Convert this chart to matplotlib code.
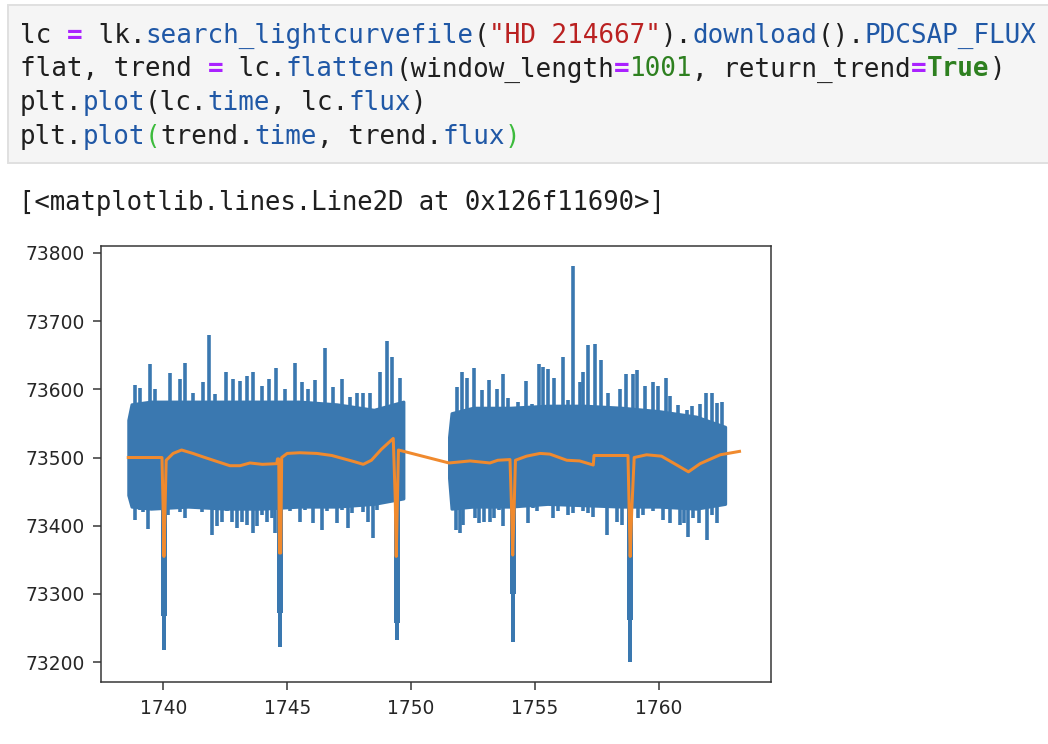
import numpy as np
import matplotlib
matplotlib.use("Agg")
import matplotlib.pyplot as plt
from matplotlib.patches import Rectangle

W, H = 1048, 744
DPI = 100

# ---------------- data ----------------
# blue light curve: continuous band (upper/lower edge nodes) per orbit segment
seg1_t = [1738.59, 1738.72, 1739.5, 1741.0, 1742.5, 1744.0, 1745.5, 1747.0, 1748.5, 1749.69]
seg1_hi = [73555, 73578, 73582, 73582, 73582, 73582, 73582, 73578, 73570, 73582]
seg1_lo = [73445, 73428, 73425, 73428, 73425, 73425, 73428, 73428, 73432, 73440]

seg2_t = [1751.53, 1751.63, 1752.5, 1754.0, 1755.5, 1757.0, 1758.5, 1760.0, 1761.5, 1762.67]
seg2_hi = [73530, 73565, 73573, 73573, 73576, 73576, 73573, 73568, 73560, 73545]
seg2_lo = [73470, 73425, 73428, 73428, 73432, 73430, 73428, 73428, 73425, 73432]

# upward flux spikes (time, peak flux)
up_t = [1738.86, 1739.06, 1739.45, 1739.66, 1740.27, 1740.67, 1740.88, 1741.19, 1741.61,
        1741.86, 1742.09, 1742.53, 1742.82, 1743.10, 1743.39, 1743.63, 1743.97, 1744.28,
        1744.55, 1744.91, 1745.31, 1745.58, 1745.85, 1746.12, 1746.53, 1746.86, 1747.20,
        1747.54, 1747.81, 1748.07, 1748.34, 1748.75, 1749.02, 1749.22, 1749.55,
        1751.86, 1752.04, 1752.24, 1752.54, 1752.85, 1753.16, 1753.45, 1753.70, 1753.92,
        1754.33, 1754.64, 1754.87, 1755.17, 1755.34, 1755.54, 1755.77, 1756.12, 1756.35,
        1756.55, 1756.82, 1756.95, 1757.13, 1757.42, 1757.66, 1757.96, 1758.43, 1758.67,
        1758.97, 1759.13, 1759.44, 1759.77, 1759.98, 1760.27, 1760.45, 1760.78, 1761.12,
        1761.32, 1761.66, 1761.90, 1762.13, 1762.33, 1762.53]
up_f = [73606, 73602, 73637, 73600, 73624, 73615, 73638, 73594, 73611,
        73679, 73593, 73626, 73615, 73612, 73620, 73626, 73605, 73615,
        73631, 73601, 73638, 73610, 73601, 73613, 73660, 73604, 73615,
        73589, 73594, 73594, 73594, 73625, 73671, 73648, 73617,
        73604, 73626, 73616, 73631, 73599, 73614, 73601, 73622, 73587,
        73582, 73612, 73579, 73637, 73633, 73630, 73616, 73648, 73585,
        73781, 73610, 73625, 73665, 73666, 73643, 73595, 73600, 73623,
        73623, 73628, 73605, 73611, 73605, 73616, 73590, 73577, 73570,
        73575, 73578, 73595, 73594, 73580, 73581]

# downward flux spikes (time, low flux)
dn_t = [1738.86, 1739.06, 1739.20, 1739.40, 1739.60, 1740.20, 1740.40, 1740.67, 1740.88,
        1741.21, 1741.55, 1741.75, 1741.95, 1742.15, 1742.36, 1742.56, 1742.76, 1742.96,
        1743.16, 1743.37, 1743.61, 1743.77, 1743.97, 1744.17, 1744.37, 1744.51, 1744.91,
        1745.11, 1745.52, 1745.72, 1746.05, 1746.39, 1746.59, 1747.02, 1747.21, 1747.44,
        1747.60, 1748.07, 1748.27, 1748.45, 1748.61,
        1751.81, 1751.97, 1752.11, 1752.27, 1752.58, 1752.75, 1752.94, 1753.18, 1753.35,
        1753.53, 1753.70, 1754.73, 1754.93, 1755.09, 1755.74, 1755.94, 1756.34, 1756.54,
        1756.95, 1757.15, 1757.35, 1757.89, 1758.09, 1758.30, 1758.50, 1759.17, 1759.37,
        1759.75, 1760.18, 1760.45, 1760.85, 1761.01, 1761.16, 1761.39, 1761.63, 1761.95,
        1762.13, 1762.33]
dn_f = [73408, 73423, 73420, 73395, 73423, 73416, 73430, 73420, 73411,
        73430, 73420, 73425, 73386, 73399, 73406, 73421, 73406, 73396,
        73406, 73401, 73389, 73399, 73416, 73406, 73411, 73389, 73428,
        73421, 73406, 73423, 73404, 73394, 73421, 73404, 73423, 73396,
        73418, 73420, 73406, 73382, 73423,
        73394, 73389, 73401, 73428, 73411, 73404, 73406, 73406, 73411,
        73423, 73399, 73404, 73426, 73421, 73411, 73421, 73416, 73418,
        73421, 73418, 73413, 73386, 73428, 73406, 73401, 73411, 73416,
        73421, 73408, 73404, 73401, 73404, 73384, 73411, 73404, 73379,
        73416, 73404]

# transits in the blue curve (time, wide-part bottom, minimum flux)
transit_t = [1740.03, 1744.71, 1749.42, 1754.12, 1758.83]
transit_shoulder = [73267, 73272, 73258, 73300, 73262]
transit_f = [73218, 73223, 73233, 73230, 73201]

# orange trend
trend_t = [1738.59, 1739.95, 1740.00, 1740.03, 1740.07, 1740.12, 1740.40, 1740.74, 1741.20,
           1741.60, 1742.10, 1742.69, 1743.10, 1743.50, 1744.00, 1744.58, 1744.61, 1744.66,
           1744.69, 1744.74, 1744.78, 1745.00, 1745.50, 1746.20, 1746.80, 1747.30, 1747.70,
           1748.07, 1748.40, 1748.80, 1749.28, 1749.36, 1749.40, 1749.45, 1749.49,
           1751.53, 1752.38, 1753.18, 1753.50, 1753.99, 1754.05, 1754.10, 1754.16, 1754.21,
           1754.66, 1755.20, 1755.60, 1756.28, 1756.80, 1757.35, 1757.38, 1758.75, 1758.80,
           1758.84, 1758.90, 1759.00, 1759.50, 1760.10, 1760.72, 1761.19, 1761.66, 1762.47,
           1763.25]
trend_f = [73500, 73500, 73420, 73355, 73420, 73496, 73506, 73511, 73506,
           73501, 73495, 73488, 73488, 73492, 73490, 73491, 73498, 73498,
           73360, 73360, 73500, 73506, 73507, 73506, 73503, 73498, 73494,
           73490, 73496, 73512, 73528, 73440, 73355, 73440, 73511,
           73492, 73495, 73492, 73496, 73497, 73430, 73357, 73430, 73496,
           73502, 73506, 73505, 73496, 73495, 73489, 73503, 73503, 73420,
           73355, 73420, 73500, 73504, 73502, 73489, 73479, 73491, 73504,
           73509]

x_ticks = [1740, 1745, 1750, 1755, 1760]
y_ticks = [73200, 73300, 73400, 73500, 73600, 73700, 73800]

code_lines = [
    [("lc ", "k"), ("=", "op"), (" lk.", "k"), ("search_lightcurvefile", "prop"), ("(", "k"),
     ('"HD 214667"', "str"), (").", "k"), ("download", "prop"), ("().", "k"), ("PDCSAP_FLUX", "prop")],
    [("flat, trend ", "k"), ("=", "op"), (" lc.", "k"), ("flatten", "prop"), ("(window_length", "k"),
     ("=", "op"), ("1001", "num"), (", return_trend", "k"), ("=", "op"), ("True", "kw"), (")", "k")],
    [("plt.", "k"), ("plot", "prop"), ("(lc.", "k"), ("time", "prop"), (", lc.", "k"), ("flux", "prop"), (")", "k")],
    [("plt.", "k"), ("plot", "prop"), ("(", "match"), ("trend.", "k"), ("time", "prop"), (", trend.", "k"),
     ("flux", "prop"), (")", "match")],
]
output_text = "[<matplotlib.lines.Line2D at 0x126f11690>]"

# ---------------- styles ----------------
STY = {
    "k": ("#1f1f1f", "normal"),
    "op": ("#aa22ff", "bold"),
    "prop": ("#2058a6", "normal"),
    "str": ("#ba2121", "normal"),
    "num": ("#2e8020", "normal"),
    "kw": ("#2e8020", "bold"),
    "match": ("#3cbb3c", "normal"),
}
BLUE = "#3a78b0"
ORANGE = "#f08a2e"

fig = plt.figure(figsize=(W / DPI, H / DPI), dpi=DPI)
fig.patch.set_facecolor("white")


def fx(px):
    return px / W


def fy(py):
    return 1 - py / H


# code cell background
fig.add_artist(Rectangle((fx(8), fy(163)), fx(1200), 158 / H, transform=fig.transFigure,
                         facecolor="#f5f5f5", edgecolor="#e0e0e0", lw=1.4, zorder=0))

mono_fs = 18.7
cw = 0.602 * mono_fs * DPI / 72.0
x0 = 20.0
baselines = [42.7, 76.5, 110.3, 144.1]
for line, base in zip(code_lines, baselines):
    col = 0
    for tok, kind in line:
        color, weight = STY[kind]
        fig.text(fx(x0 + col * cw), fy(base), tok, fontfamily="DejaVu Sans Mono",
                 fontsize=mono_fs, color=color, fontweight=weight, va="baseline", ha="left")
        col += len(tok)

fig.text(fx(19.0), fy(210.5), output_text, fontfamily="DejaVu Sans Mono", fontsize=18.45,
         color="#1f1f1f", va="baseline", ha="left")

# ---------------- axes ----------------
ax = fig.add_axes([fx(101), fy(682), (771 - 101) / W, (682 - 246) / H])
ax.set_xlim(1737.49, 1764.52)
ax.set_ylim(73171, 73810)

px = 72.0 / DPI  # points per pixel
blw = 3.0 * px
slw = 3.6 * px

for st, sh, sl in [(seg1_t, seg1_hi, seg1_lo), (seg2_t, seg2_hi, seg2_lo)]:
    ax.fill_between(st, sl, sh, color=BLUE, lw=blw, edgecolor=BLUE, zorder=2)

band_t = np.array(seg1_t + seg2_t)
band_hi = np.array(seg1_hi + seg2_hi)
band_lo = np.array(seg1_lo + seg2_lo)

up_t_a = np.array(up_t)
up_base = np.interp(up_t_a, band_t, band_hi) - 10
ax.vlines(up_t_a, up_base, up_f, color=BLUE, lw=slw, zorder=2)

dn_t_a = np.array(dn_t)
dn_base = np.interp(dn_t_a, band_t, band_lo) + 10
ax.vlines(dn_t_a, dn_base, dn_f, color=BLUE, lw=slw, zorder=2)

tr_t = np.array(transit_t)
tr_base = np.interp(tr_t, band_t, band_lo) + 10
ax.vlines(tr_t, tr_base, transit_shoulder, color=BLUE, lw=6.0 * px, zorder=2)
ax.vlines(tr_t, tr_base, transit_f, color=BLUE, lw=4.0 * px, zorder=2)

ax.plot(trend_t, trend_f, color=ORANGE, lw=3.0 * px, zorder=3, solid_joinstyle="round")

ax.set_xticks(x_ticks)
ax.set_yticks(y_ticks)
ax.set_xticklabels([str(v) for v in x_ticks])
ax.set_yticklabels([str(v) for v in y_ticks])
ax.tick_params(axis="both", length=8 * px, width=1.5 * px, pad=8.5 * px,
               labelsize=13.4, colors="#333333", labelcolor="#262626")
for sp in ax.spines.values():
    sp.set_linewidth(1.5 * px)
    sp.set_color("#333333")

fig.savefig("out.png", dpi=DPI, facecolor="white")
